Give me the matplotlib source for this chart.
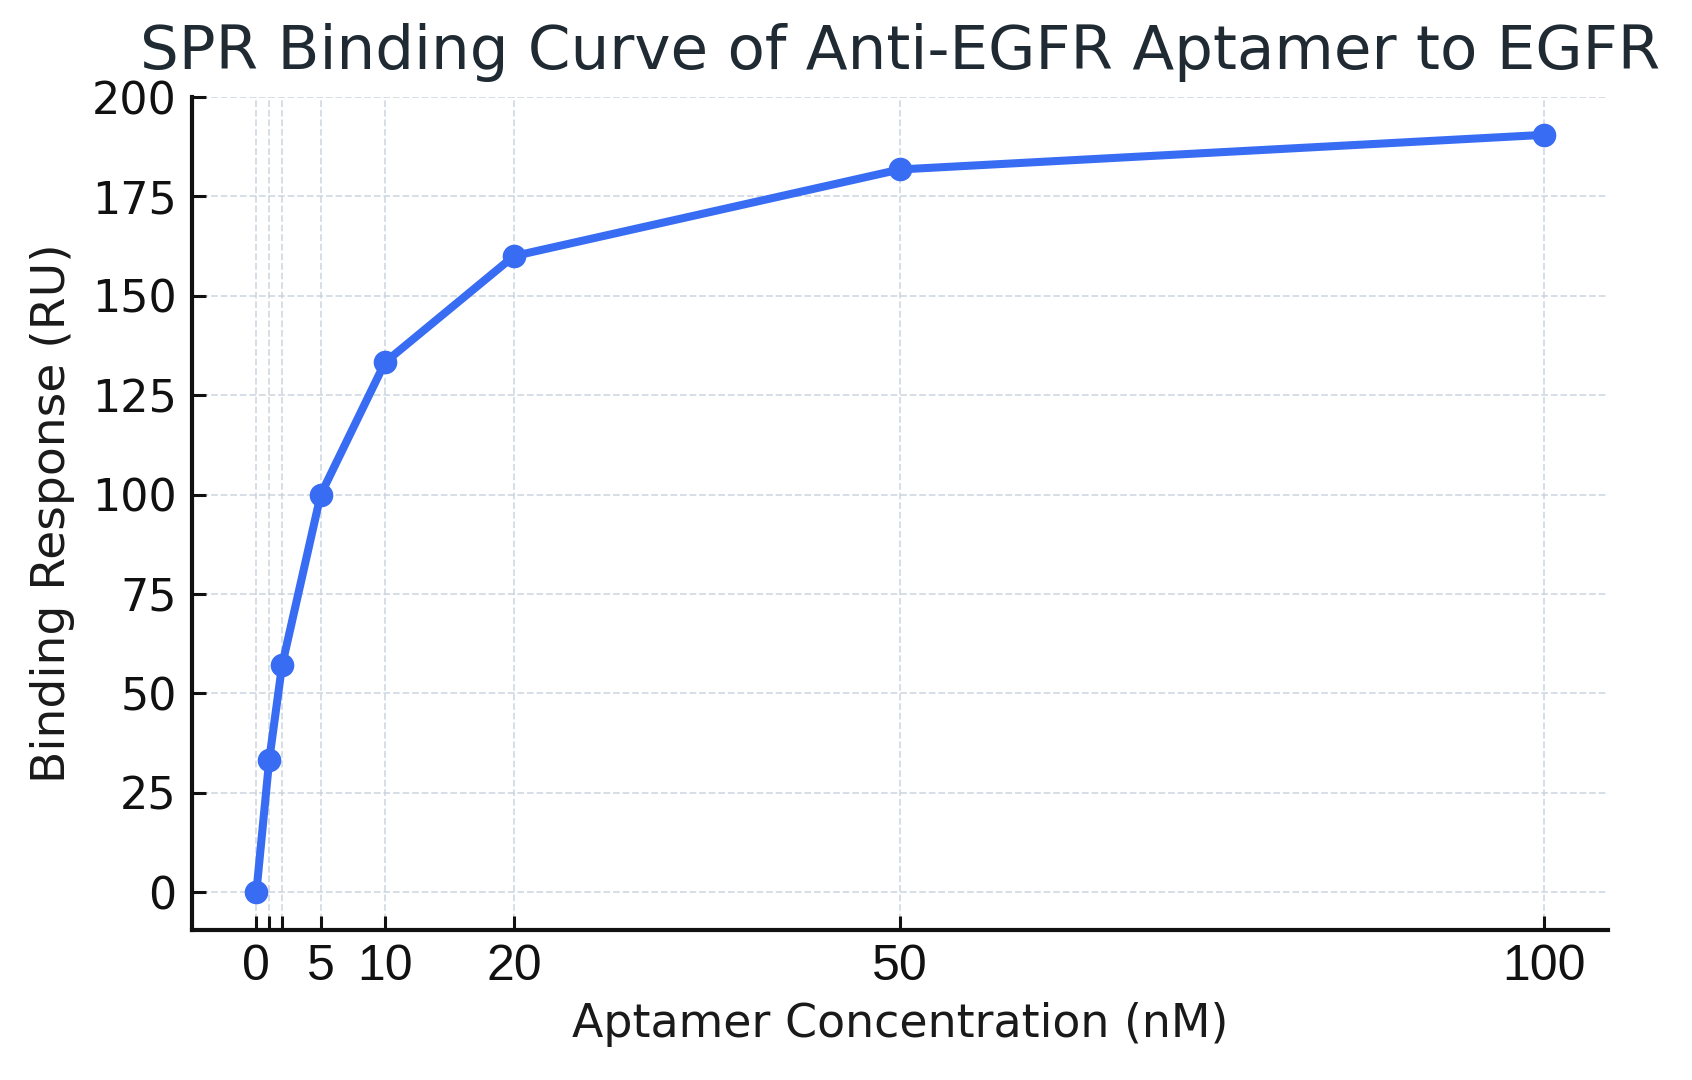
import matplotlib
matplotlib.use("Agg")
import matplotlib.pyplot as plt

# aptamer concentration (nM) and SPR response (RU)
conc = [0, 1, 2, 5, 10, 20, 50, 100]
response = [0, 33.3, 57.1, 100, 133.3, 160, 181.8, 190.5]
x_tick_labels = ["0", "", "", "5", "10", "20", "50", "100"]
y_ticks = [0, 25, 50, 75, 100, 125, 150, 175, 200]

fig = plt.figure(figsize=(16.92, 10.8), dpi=100)
ax = fig.add_axes([192 / 1692, 1 - 930 / 1080, (1608 - 192) / 1692, (930 - 97) / 1080])

ax.plot(conc, response, color="#386cf2", linewidth=5.8, marker="o", markersize=16)

ax.set_xticks(conc)
ax.set_xticklabels(x_tick_labels)
ax.set_yticks(y_ticks)
ax.tick_params(axis="y", labelsize=32, pad=11)
ax.tick_params(axis="x", labelsize=36, pad=10)
ax.tick_params(direction="in", length=10, width=2.2, colors="#111111")
for lab in ax.get_xticklabels():
    lab.set_fontfamily("Liberation Sans")

for s in ["top", "right"]:
    ax.spines[s].set_visible(False)
for s in ["left", "bottom"]:
    ax.spines[s].set_linewidth(3)
    ax.spines[s].set_color("#111111")

ax.grid(True, linestyle="--", color="#c8d2dc", linewidth=1.3, alpha=0.8)
ax.set_axisbelow(True)

ax.set_xlabel("Aptamer Concentration (nM)", fontsize=33, color="#1a1a1a", labelpad=9)
ax.set_ylabel("Binding Response (RU)", fontsize=34, color="#1a1a1a", labelpad=12)
ax.set_title("SPR Binding Curve of Anti-EGFR Aptamer to EGFR", fontsize=44, color="#1f2a33", pad=20)

fig.savefig("out.png", dpi=100)
